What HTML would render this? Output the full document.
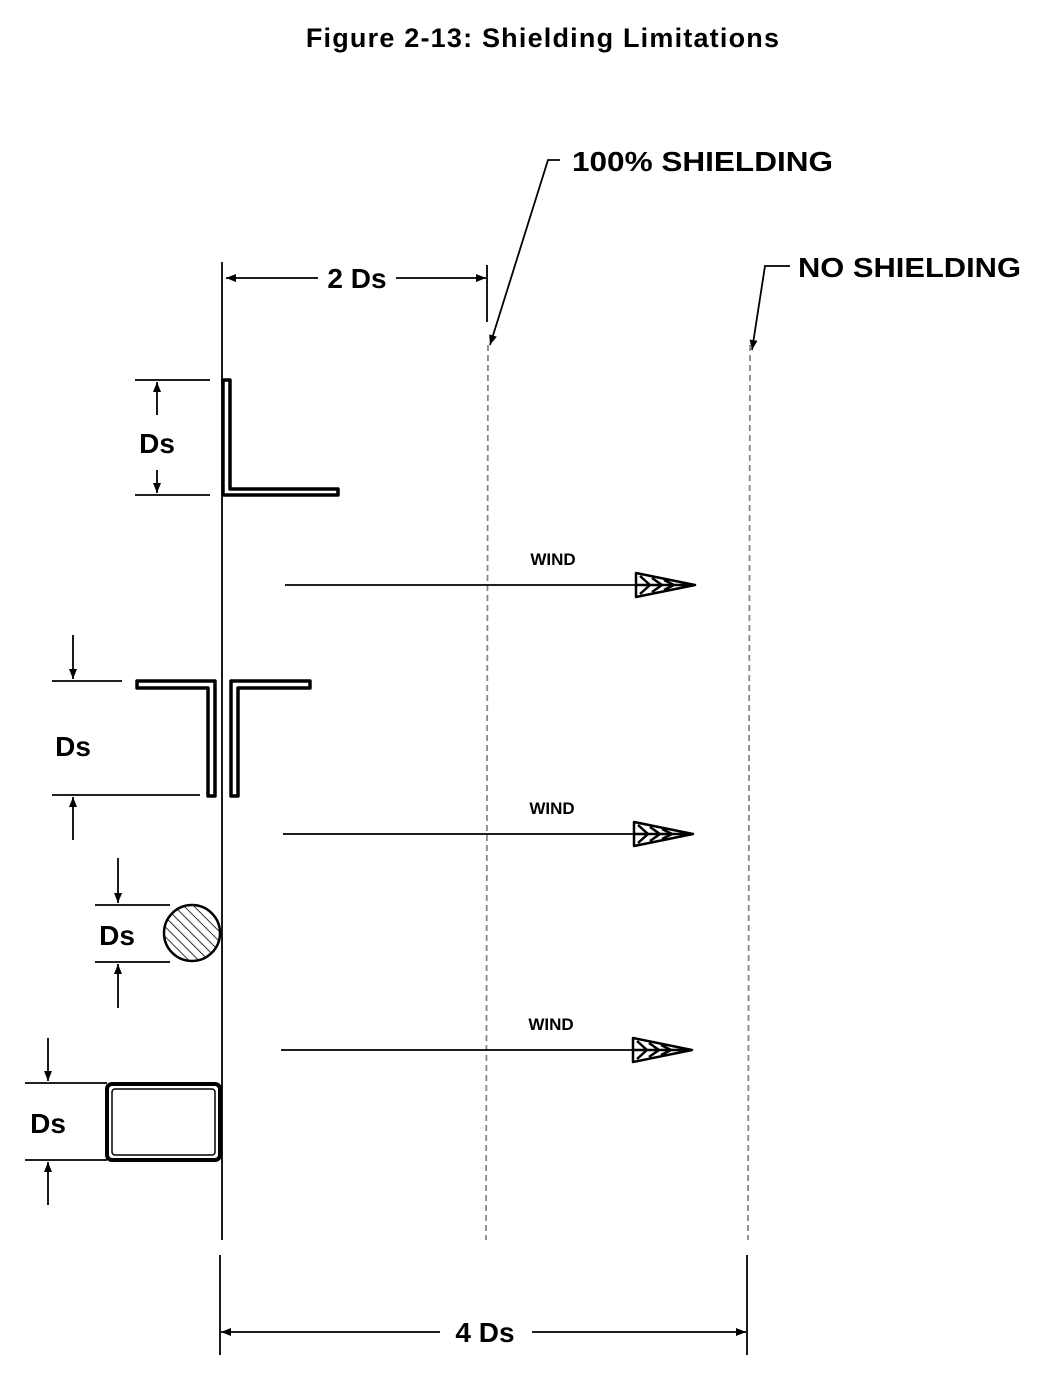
<!DOCTYPE html>
<html><head><style>body{margin:0;background:#fff}svg{display:block}</style></head><body>
<svg width="1056" height="1385" viewBox="0 0 1056 1385" xmlns="http://www.w3.org/2000/svg" font-family="Liberation Sans, Arial, sans-serif">
<defs>
<marker id="a" markerWidth="10" markerHeight="8" refX="10" refY="4" orient="auto" markerUnits="userSpaceOnUse"><path d="M0,0 L10,4 L0,8 Z" fill="#000"/></marker>
<pattern id="h" width="7" height="7" patternUnits="userSpaceOnUse" patternTransform="rotate(-45)"><line x1="0" y1="0" x2="0" y2="7" stroke="#000" stroke-width="1.6"/></pattern>
</defs>
<text x="543" y="47" text-anchor="middle" font-size="27" font-weight="bold" letter-spacing="1.2">Figure 2-13: Shielding Limitations</text>
<g stroke="#000" fill="none" stroke-width="1.8">
<line x1="222" y1="262" x2="222" y2="1240"/>
<line x1="220" y1="1255" x2="220" y2="1355"/>
<line x1="487" y1="265" x2="487" y2="322"/>
<line x1="747" y1="1255" x2="747" y2="1355"/>
<line x1="488" y1="345" x2="486" y2="1240" stroke="#888" stroke-dasharray="6,4"/>
<line x1="750" y1="345" x2="748" y2="1240" stroke="#888" stroke-dasharray="6,4"/>
<line x1="318" y1="278" x2="226" y2="278" marker-end="url(#a)"/>
<line x1="396" y1="278" x2="486" y2="278" marker-end="url(#a)"/>
<line x1="440" y1="1332" x2="221" y2="1332" marker-end="url(#a)"/>
<line x1="532" y1="1332" x2="746" y2="1332" marker-end="url(#a)"/>
<polyline points="560,160 548,160 490,345" marker-end="url(#a)"/>
<polyline points="790,266 765,266 752,350" marker-end="url(#a)"/>
<line x1="135" y1="380" x2="210" y2="380"/><line x1="135" y1="495" x2="210" y2="495"/>
<line x1="157" y1="415" x2="157" y2="382" marker-end="url(#a)"/>
<line x1="157" y1="470" x2="157" y2="493" marker-end="url(#a)"/>
<line x1="52" y1="681" x2="122" y2="681"/><line x1="52" y1="795" x2="200" y2="795"/>
<line x1="73" y1="635" x2="73" y2="679" marker-end="url(#a)"/>
<line x1="73" y1="840" x2="73" y2="797" marker-end="url(#a)"/>
<line x1="95" y1="905" x2="170" y2="905"/><line x1="95" y1="962" x2="170" y2="962"/>
<line x1="118" y1="858" x2="118" y2="903" marker-end="url(#a)"/>
<line x1="118" y1="1008" x2="118" y2="964" marker-end="url(#a)"/>
<line x1="25" y1="1083" x2="107" y2="1083"/><line x1="25" y1="1160" x2="107" y2="1160"/>
<line x1="48" y1="1038" x2="48" y2="1081" marker-end="url(#a)"/>
<line x1="48" y1="1205" x2="48" y2="1162" marker-end="url(#a)"/>
<line x1="285" y1="585" x2="636" y2="585"/>
<line x1="283" y1="834" x2="634" y2="834"/>
<line x1="281" y1="1050" x2="633" y2="1050"/>
</g>
<g stroke="#000" stroke-width="2.5" fill="none" stroke-linejoin="round">
<path d="M636,573 L695,585 L636,597 Z M636,585 L695,585 M640,576 L650,585 L640,594 M652,578 L662,585 L652,592 M664,580 L674,585 L664,590"/>
<path d="M634,822 L693,834 L634,846 Z M634,834 L693,834 M638,825 L648,834 L638,843 M650,827 L660,834 L650,841 M662,829 L672,834 L662,839"/>
<path d="M633,1038 L692,1050 L633,1062 Z M633,1050 L692,1050 M637,1041 L647,1050 L637,1059 M649,1043 L659,1050 L649,1057 M661,1045 L671,1050 L661,1055"/>
</g>
<g fill="#fff" stroke="#000" stroke-width="3.5" stroke-linejoin="round">
<path d="M223,380 L230,380 L230,489 L338,489 L338,495 L223,495 Z"/>
<path d="M137,681 L215,681 L215,796 L208,796 L208,688 L137,688 Z"/>
<path d="M231,681 L310,681 L310,688 L238,688 L238,796 L231,796 Z"/>
<rect x="107" y="1084" width="113" height="76" rx="5" stroke-width="4"/>
<rect x="112" y="1089" width="103" height="66" rx="3" stroke-width="1.5"/>
</g>
<circle cx="192" cy="933" r="28" fill="url(#h)" stroke="#000" stroke-width="2.5"/>
<g font-size="28" text-anchor="middle" font-weight="bold">
<text x="357" y="288">2 Ds</text>
<text x="485" y="1342">4 Ds</text>
<text x="157" y="453">Ds</text>
<text x="73" y="756">Ds</text>
<text x="117" y="945">Ds</text>
<text x="48" y="1133">Ds</text>
</g>
<text x="572" y="171" font-size="28" font-weight="bold" textLength="261" lengthAdjust="spacingAndGlyphs">100% SHIELDING</text>
<text x="798" y="277" font-size="28" font-weight="bold" textLength="223" lengthAdjust="spacingAndGlyphs">NO SHIELDING</text>
<g font-size="17" text-anchor="middle" font-weight="bold">
<text x="553" y="565">WIND</text>
<text x="552" y="814">WIND</text>
<text x="551" y="1030">WIND</text>
</g>
</svg>
</body></html>
